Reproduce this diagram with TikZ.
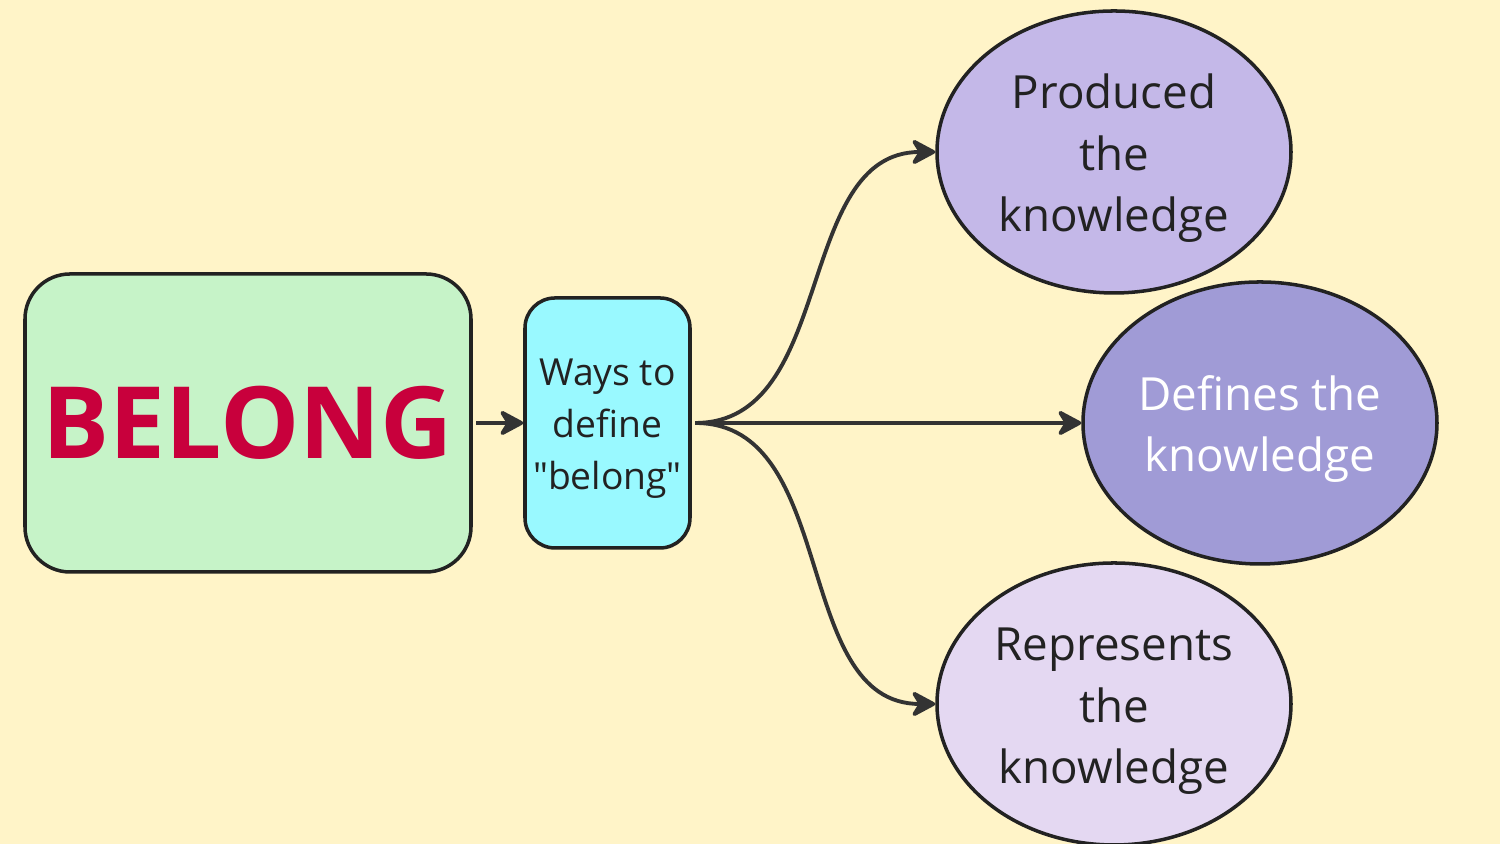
\documentclass[tikz,border=0pt]{standalone}
\usepackage{fontspec}
\setmainfont{Open Sans}[Ligatures=TeXOff]
\usetikzlibrary{arrows.meta,shapes.geometric}
\definecolor{bgyellow}{HTML}{FFF4C8}
\definecolor{boxgreen}{HTML}{C6F3C8}
\definecolor{boxcyan}{HTML}{99F9FF}
\definecolor{ovaltop}{HTML}{C4B8E8}
\definecolor{ovalmid}{HTML}{A09BD6}
\definecolor{ovalbot}{HTML}{E4D8F2}
\definecolor{belongred}{HTML}{C8003C}
\definecolor{ink}{HTML}{222222}
\definecolor{wire}{HTML}{333333}
\newcommand\ovalstrut{\rule{0pt}{1.03em}}

\begin{document}
\begin{tikzpicture}[
  box/.style={draw=ink,line width=1pt,rounded corners=0.45cm,inner sep=0pt,align=center},
  oval/.style={ellipse,draw=ink,line width=1pt,minimum width=3.54cm,minimum height=2.82cm,inner sep=0pt,align=center,font=\fontsize{13}{17.6}\selectfont,text=ink},
  link/.style={draw=wire,line width=1.1pt,-{Stealth[round,length=8pt,width=8.5pt]}}]
\fill[bgyellow] (0,0) rectangle (15,8.44);
\useasboundingbox (0,0) rectangle (15,8.44);
\node[box,fill=boxgreen,minimum width=4.46cm,minimum height=2.98cm,text=belongred,font=\fontsize{28.4}{30}\selectfont\bfseries] (belong) at (2.48,4.21) {BELONG};
\node[box,fill=boxcyan,rounded corners=0.3cm,minimum width=1.65cm,minimum height=2.50cm,text=ink,font=\fontsize{10.6}{14.8}\selectfont] (ways) at (6.075,4.21) {\ovalstrut Ways to\\define\\"belong"};
\node[oval,fill=ovaltop] (produced) at (11.14,6.92) {\ovalstrut Produced\\the\\knowledge};
\node[oval,fill=ovalmid,text=white] (defines) at (12.60,4.21) {\ovalstrut Defines the\\knowledge};
\node[oval,fill=ovalbot] (represents) at (11.14,1.40) {\ovalstrut Represents\\the\\knowledge};
\draw[link] ([xshift=1pt]belong.east)--(ways.west);
\draw[link] ([xshift=1pt]ways.east)--(defines.west);
\draw[link] ([xshift=1pt]ways.east) to[out=0,in=180] (produced.west);
\draw[link] ([xshift=1pt]ways.east) to[out=0,in=180] (represents.west);
\end{tikzpicture}
\end{document}
